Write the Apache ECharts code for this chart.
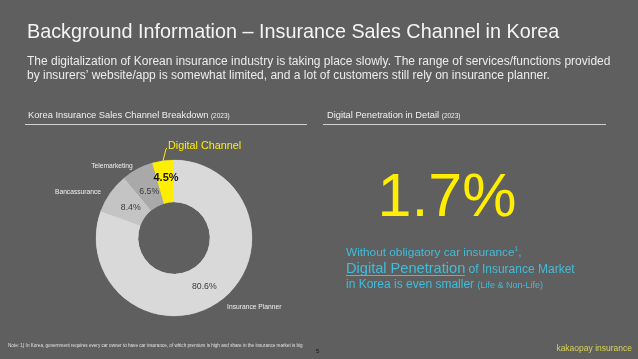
<!DOCTYPE html>
<html><head><meta charset="utf-8">
<script src="https://cdn.jsdelivr.net/npm/echarts@6/dist/echarts.min.js"></script>
<style>html,body{margin:0;padding:0;background:#5f5f5f;}#c{width:638px;height:359px;}</style>
</head><body><div id="c"></div>
<script>
const categories = ['Insurance Planner', 'Bancassurance', 'Telemarketing', 'Digital Channel'];
const shares = [80.6, 8.4, 6.5, 4.5];
const penetration = '1.7%';
const sliceColors = ['#d9d9d9', '#c4c4c4', '#a9a9a9', '#ffee00'];

const F = '"Liberation Sans", Arial, sans-serif';
const chart = echarts.init(document.getElementById('c'), null, {renderer: 'canvas'});
const data = categories.map((n, i) => ({name: n, value: shares[i], itemStyle: {color: sliceColors[i]}}));
const C = [174, 238];
const pct = p => p.value.toFixed(1) + '%';
const CY = '#42bcd8';

chart.setOption({
  backgroundColor: '#5f5f5f',
  animation: false,
  series: [
    // slices + outer category labels
    {
      type: 'pie', center: C, radius: [36, 78], startAngle: 90, clockwise: true, silent: true,
      itemStyle: {borderColor: '#9a9a9a', borderWidth: 0.5},
      label: {position: 'outside', fontFamily: F, fontSize: 6.7, color: '#f0f0f0', formatter: '{b}'},
      labelLine: {show: false, length: 6, length2: 0},
      labelLayout: function (p) {
        if (p.dataIndex === 3) {
          return {x: 168, y: 146, align: 'left', verticalAlign: 'middle',
            labelLinePoints: [[163, 161], [166, 149], [167, 148]]};
        }
        if (p.dataIndex === 1) return {dx: -4, dy: 3};
        if (p.dataIndex === 2) return {dx: 3, dy: 0};
        return {};
      },
      data: data.map((d, i) => i === 3 ? Object.assign({}, d, {
        label: {fontSize: 10.8, color: '#ffee00'},
        labelLine: {show: true, lineStyle: {color: '#ffee00', width: 1}}
      }) : d)
    },
    // inner percentage labels
    {
      type: 'pie', center: C, radius: [36, 64], startAngle: 90, clockwise: true, silent: true,
      itemStyle: {color: 'rgba(0,0,0,0)'},
      label: {position: 'inside', fontFamily: F, fontSize: 8.7, color: '#3a3a3a', formatter: pct},
      labelLayout: function (p) {
        if (p.dataIndex === 0) return {dy: 5};
        return {};
      },
      data: data.map((d, i) => i === 3 ? Object.assign({}, d, {label: {show: false}}) : d)
    },
    // bold label for the digital slice
    {
      type: 'pie', center: C, radius: [36, 78], startAngle: 90, clockwise: true, silent: true,
      itemStyle: {color: 'rgba(0,0,0,0)'},
      label: {position: 'outside', fontFamily: F, fontSize: 11, fontWeight: 'bold', color: '#111', formatter: pct},
      labelLine: {show: false},
      labelLayout: function (p) {
        if (p.dataIndex === 3) return {x: 166, y: 178, align: 'center', verticalAlign: 'middle'};
        return {};
      },
      data: data.map((d, i) => i === 3 ? d : Object.assign({}, d, {label: {show: false}}))
    }
  ],
  graphic: [
    {type: 'text', left: 27, top: 23, style: {text: 'Background Information – Insurance Sales Channel in Korea', font: '19.8px ' + F, fill: '#f4f4f4'}},
    {type: 'text', left: 27, top: 54, style: {text: 'The digitalization of Korean insurance industry is taking place slowly. The range of services/functions provided\nby insurers\u2019 website/app is somewhat limited, and a lot of customers still rely on insurance planner.', font: '12px ' + F, fill: '#ececec', lineHeight: 14.5}},
    {type: 'text', left: 28, top: 111, style: {text: '{a|Korea Insurance Sales Channel Breakdown }{b|(2023)}', rich: {a: {font: '9.3px ' + F, fill: '#f0f0f0', verticalAlign: 'bottom'}, b: {font: '6.5px ' + F, fill: '#f0f0f0', verticalAlign: 'bottom', padding: [0, 0, 0.5, 0]}}}},
    {type: 'line', shape: {x1: 25, y1: 124.5, x2: 307, y2: 124.5}, style: {stroke: '#d0d0d0', lineWidth: 1}},
    {type: 'text', left: 327, top: 111, style: {text: '{a|Digital Penetration in Detail }{b|(2023)}', rich: {a: {font: '9.3px ' + F, fill: '#f0f0f0', verticalAlign: 'bottom'}, b: {font: '6.5px ' + F, fill: '#f0f0f0', verticalAlign: 'bottom', padding: [0, 0, 0.5, 0]}}}},
    {type: 'line', shape: {x1: 323, y1: 124.5, x2: 606, y2: 124.5}, style: {stroke: '#d0d0d0', lineWidth: 1}},
    {type: 'text', x: 447, y: 199, style: {text: penetration, font: '61px ' + F, fill: '#ffee00', align: 'center', verticalAlign: 'middle', letterSpacing: 2}},
    {type: 'text', left: 346, top: 246, style: {text: '{n|Without obligatory car insurance}{s|1}{n|,}', rich: {n: {font: '11.8px ' + F, fill: CY}, s: {font: '6.5px ' + F, fill: CY, verticalAlign: 'top', padding: [0, 0, 7, 0]}}}},
    {type: 'text', left: 346, top: 261, style: {text: '{u|Digital Penetration} {n|of Insurance Market}', rich: {u: {font: '14.6px ' + F, fill: CY, verticalAlign: 'bottom'}, n: {font: '12px ' + F, fill: CY, verticalAlign: 'bottom', padding: [0, 0, 0.5, 0]}}}},
    {type: 'line', shape: {x1: 346, y1: 275.5, x2: 465, y2: 275.5}, style: {stroke: CY, lineWidth: 1}},
    {type: 'text', left: 346, top: 279, style: {text: '{n|in Korea is even smaller }{s|(Life & Non-Life)}', rich: {n: {font: '12px ' + F, fill: CY, verticalAlign: 'bottom'}, s: {font: '9px ' + F, fill: CY, verticalAlign: 'bottom', padding: [0, 0, 0.5, 0]}}}},
    {type: 'text', left: 8, top: 343.5, style: {text: 'Note: 1) In Korea, government requires every car owner to have car insurance, of which premium is high and share in the insurance market is big', font: '4.6px ' + F, fill: '#e0e0e0'}},
    {type: 'text', left: 316, top: 348, style: {text: '5', font: '6px ' + F, fill: '#111'}},
    {type: 'text', right: 6, top: 344, style: {text: 'kakaopay insurance', font: '8.5px ' + F, fill: '#d8d45a'}}
  ]
});
</script></body></html>
